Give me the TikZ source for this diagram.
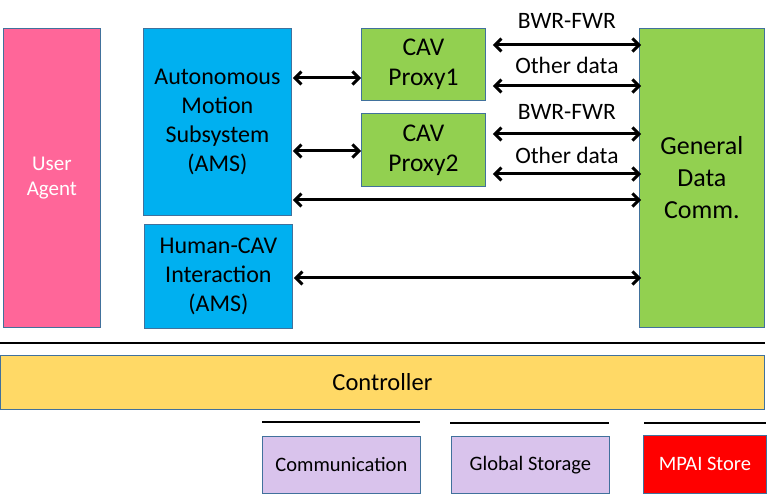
\documentclass[tikz,border=0pt]{standalone}
\usepackage{fontspec}
\setmainfont{Carlito}
\usetikzlibrary{arrows.meta}
\definecolor{bord}{HTML}{41719C}
\definecolor{pinkc}{HTML}{FF6699}
\definecolor{bluec}{HTML}{00B0F0}
\definecolor{greenc}{HTML}{92D050}
\definecolor{yellowc}{HTML}{FFD966}
\definecolor{lavc}{HTML}{D9C3EC}
\definecolor{redc}{HTML}{FF0000}
\tikzset{
  blk/.style={draw=bord, line width=0.8pt, inner sep=0pt, align=center, anchor=north west},
  arr/.style={line width=3pt, {Straight Barb[length=6.5pt,width=13pt]}-{Straight Barb[length=6.5pt,width=13pt]}},
  bar/.style={line width=2.8pt},
  lbl/.style={font=\fontsize{23.5}{26}\selectfont, inner sep=0pt, anchor=center}
}
\begin{document}
\begin{tikzpicture}[x=1pt,y=-1pt]
\useasboundingbox (0,0) rectangle (768,494);
% blocks
\node[blk, fill=pinkc, text=white, minimum width=97pt, minimum height=299pt, font=\fontsize{21}{25}\selectfont] (ua) at (3,28) {User\\Agent};
\node[blk, fill=bluec, minimum width=148pt, minimum height=187pt, font=\fontsize{24}{28.8}\selectfont] (ams) at (143,28) {Autonomous\\Motion\\Subsystem\\(AMS)};
\node[blk, fill=bluec, minimum width=148pt, minimum height=104pt, font=\fontsize{24}{28.8}\selectfont] (hci) at (144,224) {Human-CAV\\Interaction\\(AMS)};
\node[blk, fill=greenc, minimum width=124pt, minimum height=72pt, font=\fontsize{25.5}{30}\selectfont] (p1) at (361,28) {CAV\\Proxy1};
\node[blk, fill=greenc, minimum width=124pt, minimum height=73pt, font=\fontsize{25.5}{30}\selectfont] (p2) at (361,113) {CAV\\Proxy2};
\node[blk, fill=greenc, minimum width=125pt, minimum height=299pt, font=\fontsize{26}{32}\selectfont] (gdc) at (639,28) {General\\Data\\Comm.};
\node[blk, fill=yellowc, minimum width=764pt, minimum height=54pt, font=\fontsize{24.5}{26}\selectfont] (ctl) at (0,355) {Controller};
\node[blk, fill=lavc, minimum width=158pt, minimum height=57pt, font=\fontsize{20.5}{23}\selectfont] (com) at (262,436) {Communication};
\node[blk, fill=lavc, minimum width=158pt, minimum height=57pt, font=\fontsize{20.5}{23}\selectfont] (gs) at (451,436) {Global Storage};
\node[blk, fill=redc, text=white, minimum width=123pt, minimum height=58pt, font=\fontsize{20.5}{23}\selectfont] (ms) at (643,435) {MPAI Store};
% bars
\coordinate (tbL) at (0,343);
\coordinate (tbR) at (765,343);
\draw[bar] (tbL) -- (tbR);
\coordinate (b1L) at (262,422); \coordinate (b1R) at (420,422);
\coordinate (b2L) at (450,423); \coordinate (b2R) at (609,423);
\coordinate (b3L) at (644,423); \coordinate (b3R) at (766,423);
\draw[bar] (b1L) -- (b1R);
\draw[bar] (b2L) -- (b2R);
\draw[bar] (b3L) -- (b3R);
% arrows
\draw[arr] ([xshift=1pt]ams.east |- 0,78) -- (p1.west |- 0,78);
\draw[arr] ([xshift=1pt]ams.east |- 0,151) -- (p2.west |- 0,151);
\draw[arr] ([xshift=7pt]p1.east |- 0,45) -- node[lbl, yshift=24pt] {BWR-FWR} ([xshift=2pt]gdc.west |- 0,45);
\draw[arr] ([xshift=7pt]p1.east |- 0,86) -- node[lbl, yshift=21pt] {Other data} ([xshift=2pt]gdc.west |- 0,86);
\draw[arr] ([xshift=7pt]p2.east |- 0,134) -- node[lbl, yshift=22pt] {BWR-FWR} ([xshift=2pt]gdc.west |- 0,134);
\draw[arr] ([xshift=7pt]p2.east |- 0,174) -- node[lbl, yshift=19pt] {Other data} ([xshift=2pt]gdc.west |- 0,174);
\draw[arr] ([xshift=1pt]ams.east |- 0,200) -- ([xshift=2pt]gdc.west |- 0,200);
\draw[arr] ([xshift=1pt]hci.east |- 0,278) -- ([xshift=2pt]gdc.west |- 0,278);
\end{tikzpicture}
\end{document}
